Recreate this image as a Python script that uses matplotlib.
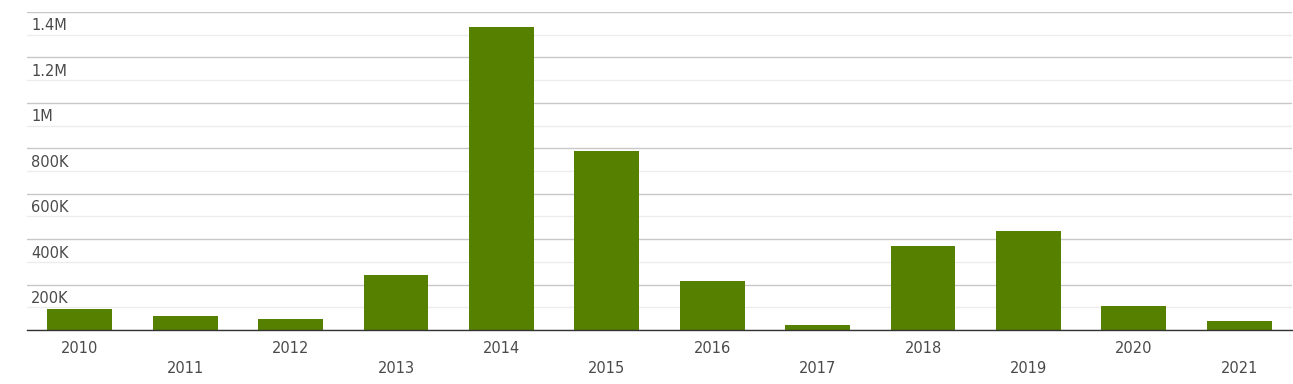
import matplotlib.pyplot as plt
from matplotlib.ticker import MultipleLocator
from matplotlib.transforms import ScaledTranslation

years = ["2010", "2011", "2012", "2013", "2014", "2015",
         "2016", "2017", "2018", "2019", "2020", "2021"]
values = [92000, 62000, 48000, 242000, 1333000, 788000,
          216000, 22000, 370000, 436000, 106000, 40000]
y_ticks = [200000, 400000, 600000, 800000, 1000000, 1200000, 1400000]
y_labels = ["200K", "400K", "600K", "800K", "1M", "1.2M", "1.4M"]

W, H = 1293, 384
fig = plt.figure(figsize=(W / 100, H / 100), dpi=100)
ax = fig.add_axes([27 / W, (H - 330) / H, 1265 / W, 318 / H])

x = range(len(years))
ax.bar(x, values, width=0.615, color="#558000", zorder=3)

ax.set_xlim(-0.5, len(years) - 0.5)
ax.set_ylim(0, 1400000)

# grid: major every 200K, minor every 100K
ax.yaxis.set_major_locator(MultipleLocator(200000))
ax.yaxis.set_minor_locator(MultipleLocator(100000))
ax.grid(axis="y", which="major", color="#c8c8c8", linewidth=1, zorder=0)
ax.grid(axis="y", which="minor", color="#ececec", linewidth=1, zorder=0)
ax.tick_params(axis="y", which="both", length=0, labelleft=False)

for s in ["top", "right", "left"]:
    ax.spines[s].set_visible(False)
ax.spines["bottom"].set_color("#333333")
ax.spines["bottom"].set_linewidth(1)
ax.spines["bottom"].set_zorder(4)

# y labels inside the plot, just below each gridline
offset = ScaledTranslation(4 / 100, -14 / 100, fig.dpi_scale_trans)
for v, lab in zip(y_ticks, y_labels):
    ax.text(0, v, lab, transform=ax.get_yaxis_transform() + offset,
            ha="left", va="center", fontsize=10.5, color="#4a4a4a")

# staggered year labels
ax.set_xticks(list(x))
ax.set_xticklabels(years, fontsize=10.5, color="#4a4a4a")
ax.tick_params(axis="x", length=0)
for i, t in enumerate(ax.xaxis.get_major_ticks()):
    t.set_pad(7.8 if i % 2 == 0 else 22.3)

fig.savefig("out.png", dpi=100)
